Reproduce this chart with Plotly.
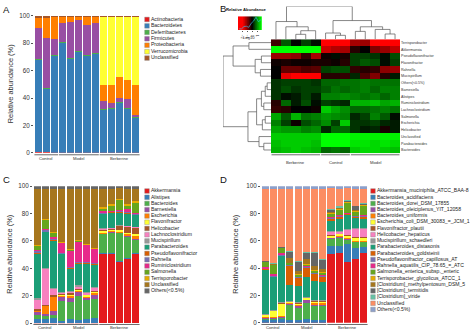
import numpy as np
import plotly.graph_objects as go

W, H = 474, 336
FONT = "Liberation Sans, Arial, sans-serif"


def fx(p):
    return p / W


def fy(p):
    return 1 - p / H


# ---------------- data ----------------
groups_bar = [("Control", 3), ("Model", 5), ("Berberine", 5)]
groups_heat = [("Berberine", 5), ("Control", 3), ("Model", 5)]

phylum_names = ["Actinobacteria", "Bacteroidetes", "Deferribacteres", "Firmicutes",
                "Proteobacteria", "Verrucomicrobia", "Unclassified"]
phylum_colors = ["#E41A1C", "#377EB8", "#4DAF4A", "#984EA3", "#FF7F00", "#FFFF33", "#A65628"]
# one row per sample (Control x3, Model x5, Berberine x5)
phylum_by_sample = [
    [0.3, 68.0, 0.2, 22.7, 7.8, 0.0, 1.0],
    [0.3, 46.7, 0.2, 36.3, 15.5, 0.0, 1.0],
    [0.2, 71.0, 0.1, 11.9, 16.3, 0.0, 0.5],
    [0.1, 80.5, 0.1, 13.7, 5.4, 0.0, 0.2],
    [0.1, 68.8, 0.1, 26.6, 4.2, 0.0, 0.2],
    [0.1, 74.0, 0.1, 22.9, 2.7, 0.0, 0.2],
    [0.1, 71.2, 0.1, 21.7, 6.7, 0.0, 0.2],
    [0.1, 72.4, 0.1, 22.3, 4.9, 0.0, 0.2],
    [0.1, 32.0, 0.1, 5.3, 12.1, 50.2, 0.2],
    [0.1, 32.4, 0.1, 3.5, 13.4, 50.3, 0.2],
    [0.1, 37.0, 0.1, 3.1, 15.0, 44.5, 0.2],
    [0.1, 32.4, 0.1, 6.5, 14.0, 46.7, 0.2],
    [0.1, 25.7, 0.1, 1.8, 21.9, 50.2, 0.2],
]

genus_names = ["Akkermansia", "Alistipes", "Bacteroides", "Barnesiella", "Escherichia",
               "Flavonifractor", "Helicobacter", "Lachnoclostridium", "Mucispirillum",
               "Parabacteroides", "Pseudoflavonifractor", "Rahnella", "Ruminiclostridium",
               "Salmonella", "Terrisporobacter", "Unclassified", "Others(<0.5%)"]
genus_colors = ["#E41A1C", "#377EB8", "#4DAF4A", "#984EA3", "#FF7F00", "#FFFF33", "#A65628",
                "#F781BF", "#999999", "#1B9E77", "#D95F02", "#7570B3", "#E7298A", "#66A61E",
                "#E6AB02", "#A6761D", "#666666"]
genus_by_sample = [
    [0.2, 3.0, 2.5, 2.5, 1.0, 0.3, 0.7, 7.0, 1.5, 32.0, 0.5, 1.5, 0.7, 3.3, 0.2, 41.0, 2.0],
    [0.2, 3.0, 2.0, 1.5, 6.0, 0.3, 0.5, 26.5, 0.5, 26.0, 0.5, 1.0, 1.0, 6.5, 0.2, 22.3, 2.0],
    [0.2, 3.5, 2.5, 3.0, 10.0, 0.5, 0.8, 4.5, 0.5, 35.0, 0.5, 1.0, 1.0, 3.0, 0.2, 31.8, 2.0],
    [0.2, 1.5, 14.5, 3.0, 1.0, 1.0, 0.5, 0.8, 0.5, 27.5, 0.5, 0.5, 7.0, 0.5, 0.3, 38.7, 2.0],
    [0.2, 3.0, 12.0, 3.5, 1.5, 1.0, 0.5, 1.5, 0.5, 16.0, 0.5, 0.5, 12.5, 0.5, 0.3, 44.0, 2.0],
    [0.2, 2.0, 17.5, 3.5, 0.5, 1.0, 0.5, 1.5, 1.0, 16.0, 0.5, 0.5, 15.0, 0.5, 0.3, 37.5, 2.0],
    [0.2, 3.0, 13.5, 2.0, 1.0, 1.0, 0.5, 0.8, 0.5, 21.0, 0.5, 0.5, 12.5, 0.5, 0.3, 40.2, 2.0],
    [0.2, 3.5, 14.0, 3.0, 1.0, 1.5, 0.5, 2.5, 0.5, 16.0, 0.5, 0.5, 10.5, 0.5, 0.3, 43.0, 2.0],
    [50.7, 0.3, 14.0, 0.3, 1.0, 0.8, 1.5, 0.3, 0.3, 10.5, 0.5, 0.3, 1.0, 2.0, 1.0, 13.5, 2.0],
    [51.0, 0.3, 15.0, 0.3, 1.0, 0.8, 0.8, 0.3, 0.3, 11.0, 0.5, 0.3, 0.5, 4.0, 0.5, 11.4, 2.0],
    [45.0, 0.3, 20.5, 0.3, 1.0, 0.8, 3.0, 0.3, 0.3, 9.5, 0.5, 0.3, 0.5, 8.0, 0.5, 7.7, 1.5],
    [47.0, 0.3, 16.0, 0.3, 1.5, 1.0, 4.5, 0.3, 0.3, 9.0, 0.5, 0.3, 2.5, 2.0, 1.5, 11.0, 2.0],
    [51.0, 0.3, 10.0, 0.3, 2.5, 0.8, 5.0, 0.3, 0.3, 8.5, 0.5, 0.3, 0.5, 8.0, 0.5, 9.2, 2.0],
]

species_names = ["Akkermansia_muciniphila_ATCC_BAA-835", "Bacteroides_acidifaciens",
                 "Bacteroides_dorei_DSM_17855", "Bacteroides_oleiciplenus_YIT_12058",
                 "Bacteroides_uniformis", "Escherichia_coli_DSM_30083_=_JCM_1649_=_ATCC_11775",
                 "Flavonifractor_plautii", "Helicobacter_hepaticus", "Mucispirillum_schaedleri",
                 "Parabacteroides_distasonis", "Parabacteroides_goldsteinii",
                 "Pseudoflavonifractor_capillosus_ATCC_29799",
                 "Rahnella_aquatilis_CIP_78.65_=_ATCC_33071",
                 "Salmonella_enterica_subsp._enterica_serovar_Typhimurium",
                 "Terrisporobacter_glycolicus_ATCC_14880", "[Clostridium]_methylpentosum_DSM_5476",
                 "[Clostridium]_termitidis", "[Clostridium]_viride", "Unclassified", "Others(<0.5%)"]
species_colors = ["#E41A1C", "#377EB8", "#4DAF4A", "#984EA3", "#FF7F00", "#FFFF33", "#A65628",
                  "#F781BF", "#999999", "#1B9E77", "#D95F02", "#7570B3", "#E7298A", "#66A61E",
                  "#E6AB02", "#A6761D", "#666666", "#66C2A5", "#FC8D62", "#8DA0CB"]
species_by_sample = [
    [0.1, 2.0, 1.0, 0.5, 0.5, 1.5, 0.3, 0.2, 0.5, 32.5, 0.5, 0.3, 1.0, 3.5, 0.2, 0.2, 0.3, 0.2, 52.7, 2.0],
    [0.1, 2.0, 1.0, 0.5, 0.5, 4.5, 0.3, 0.2, 0.3, 24.0, 0.5, 0.5, 1.5, 6.5, 0.2, 0.5, 0.3, 0.2, 54.4, 2.0],
    [0.1, 3.0, 0.5, 0.5, 0.5, 9.5, 0.3, 0.2, 0.3, 34.0, 0.5, 0.3, 1.5, 3.5, 0.2, 0.2, 0.3, 0.2, 42.4, 2.0],
    [0.1, 2.0, 11.0, 1.0, 0.5, 0.5, 0.3, 0.2, 0.3, 11.5, 14.5, 0.5, 0.3, 1.0, 0.3, 3.5, 4.5, 0.5, 45.2, 2.3],
    [0.1, 2.0, 9.0, 1.5, 0.5, 1.0, 0.3, 0.2, 0.3, 12.0, 6.0, 0.5, 0.3, 1.5, 0.3, 2.5, 6.5, 0.5, 53.0, 2.0],
    [0.1, 2.5, 12.0, 2.0, 0.5, 1.0, 0.3, 0.2, 0.3, 14.5, 7.0, 0.5, 0.3, 1.5, 0.3, 3.5, 4.5, 0.5, 46.5, 2.0],
    [0.1, 2.0, 10.0, 1.5, 0.5, 1.5, 0.3, 0.2, 0.3, 14.0, 5.5, 0.5, 0.3, 1.5, 0.5, 3.0, 9.5, 0.5, 46.3, 2.0],
    [0.1, 2.0, 10.0, 1.5, 0.5, 1.5, 0.3, 0.2, 0.3, 13.5, 4.0, 0.5, 0.3, 2.0, 0.3, 2.5, 6.5, 0.5, 51.5, 2.0],
    [50.5, 6.0, 5.0, 0.5, 0.5, 1.0, 0.5, 2.5, 0.3, 7.5, 2.0, 0.5, 0.3, 3.0, 0.5, 0.5, 1.5, 0.5, 15.4, 1.5],
    [51.0, 5.5, 6.0, 0.5, 0.5, 1.5, 0.5, 1.0, 0.3, 9.0, 2.0, 0.5, 0.3, 4.5, 0.5, 0.5, 0.5, 0.5, 12.9, 2.0],
    [44.5, 13.0, 3.5, 0.5, 0.5, 1.5, 0.5, 4.5, 0.3, 10.0, 1.0, 0.3, 0.3, 7.5, 0.5, 0.5, 0.5, 0.3, 8.8, 1.5],
    [47.0, 8.0, 4.0, 0.5, 0.5, 2.5, 0.5, 6.0, 0.3, 7.0, 1.5, 0.3, 0.3, 3.0, 0.5, 0.5, 3.0, 0.3, 12.3, 2.0],
    [51.0, 4.5, 3.5, 0.5, 0.5, 2.0, 0.5, 6.5, 0.3, 6.5, 2.0, 0.5, 0.3, 7.0, 0.5, 0.5, 0.5, 0.5, 10.4, 2.0],
]
# species legend entries run past the right border, so only the leading part is printed
species_label_chars = 34

# heatmap (log10 relative abundance, centred); columns: Berberine x5, Control x3, Model x5
heat_rows = ["Terrisporobacter", "Akkermansia", "Pseudoflavonifractor", "Flavonifractor",
             "Rahnella", "Mucispirillum", "Others(<0.5%)", "Barnesiella", "Alistipes",
             "Ruminiclostridium", "Lachnoclostridium", "Salmonella", "Escherichia",
             "Helicobacter", "Unclassified", "Parabacteroides", "Bacteroides"]
heat_values = [
    [-0.5, 0.7, 0.0, 0.5, 0.1, -2.0, -2.0, -2.0, -1.3, -1.2, -2.0, -2.0, -2.0],
    [2.0, 2.0, 2.0, 2.0, 2.0, -1.6, -1.4, -1.3, -0.3, 0.0, -1.0, -1.2, -1.5],
    [-1.2, -1.2, -1.1, -0.4, -1.3, -0.1, 0.1, -0.2, 0.5, 0.5, 0.4, 0.1, 0.6],
    [-0.1, -0.2, -0.1, -0.1, -0.2, -0.2, -0.1, -0.3, 0.5, 0.7, 0.6, 0.1, 0.5],
    [0.0, -0.8, -0.8, -0.6, -0.7, 0.5, 0.6, 0.6, -0.4, -0.3, -0.4, -1.1, -1.2],
    [0.0, -1.8, -2.0, -2.0, -2.0, -0.3, -0.3, -0.4, 0.3, -0.6, -1.0, -0.3, 0.2],
    [0.4, 0.5, 0.5, 0.5, 0.4, 0.8, 0.8, 0.9, 0.9, 1.0, 0.9, 0.9, 0.9],
    [0.4, 0.6, 0.4, 0.5, 0.5, 0.7, 0.9, 0.8, 0.9, 1.0, 0.8, 1.0, 1.0],
    [0.4, 0.1, 0.2, 0.5, 0.2, 1.0, 1.0, 1.1, 1.0, 0.9, 1.0, 0.8, 1.0],
    [-0.3, 0.8, 0.2, 0.6, 0.1, 0.5, 0.4, 0.3, 1.4, 1.4, 1.5, 1.3, 1.4],
    [-0.4, -0.3, 0.0, 0.0, -0.1, 1.6, 1.3, 1.1, 0.8, 0.8, 0.9, 1.0, 0.9],
    [1.3, 0.7, 1.4, 0.9, 1.0, 1.2, 1.1, 1.0, 0.3, 0.5, 1.0, 0.7, 0.1],
    [1.0, 0.5, -0.1, 0.6, 0.8, 1.1, 0.5, 1.6, 0.4, 0.4, 0.5, 0.3, 0.2],
    [1.3, 1.2, 1.2, 1.0, 1.1, 0.3, 0.8, 0.8, 0.4, 0.2, 0.3, -0.2, 0.2],
    [1.6, 1.6, 1.6, 1.6, 1.6, 2.0, 2.0, 2.0, 1.9, 1.9, 1.9, 1.9, 1.9],
    [1.5, 1.6, 1.6, 1.6, 1.5, 2.0, 2.0, 2.0, 1.8, 1.8, 1.7, 1.8, 1.7],
    [1.4, 1.5, 1.6, 1.5, 1.4, 0.8, 0.9, 0.8, 1.6, 1.7, 1.7, 1.6, 1.5],
]

# hierarchical clustering merges: (child_a, child_b, height); new node ids follow the leaves
col_merges = [(2, 3, 0.15), (13, 4, 0.26), (1, 14, 0.38), (0, 15, 0.54),
              (6, 7, 0.12), (5, 17, 0.19), (8, 9, 0.24), (11, 12, 0.16),
              (10, 20, 0.30), (19, 21, 0.38), (18, 22, 0.57), (16, 23, 1.0)]
row_merges = [(0, 1, 0.46), (2, 3, 0.20), (4, 5, 0.22), (18, 19, 0.33), (17, 20, 0.79),
              (6, 7, 0.08), (22, 8, 0.12), (9, 10, 0.15), (23, 24, 0.20), (11, 12, 0.12),
              (26, 13, 0.18), (25, 27, 0.30), (15, 16, 0.15), (14, 29, 0.25),
              (28, 30, 0.48), (21, 31, 1.0)]

colorkey_ticks = [-2, -1, 0, 1]

# ---------------- helpers ----------------
fig = go.Figure()
TXT = "#333333"


def hidden(domain, rng, **kw):
    d = dict(domain=domain, range=rng, visible=False, fixedrange=True)
    d.update(kw)
    return d


def add_stack(names, colors, by_sample, xa, ya):
    vals = np.array(by_sample).T
    xs = list(range(vals.shape[1]))
    for name, col, row in zip(names, colors, vals):
        fig.add_trace(go.Bar(x=xs, y=row, name=name, marker=dict(color=col, line=dict(width=0)),
                             xaxis=xa, yaxis=ya, showlegend=False, hoverinfo="skip"))


def add_key(names, colors, xa, ya):
    n = len(names)
    fig.add_trace(go.Scatter(x=[0] * n, y=list(range(n)), mode="markers+text",
                             marker=dict(symbol="square", size=4.6, color=colors,
                                         line=dict(width=0.4, color="#888888")),
                             text=names, textposition="middle right",
                             textfont=dict(size=5.1, color="#222222", family=FONT),
                             xaxis=xa, yaxis=ya, showlegend=False, hoverinfo="skip",
                             cliponaxis=False))


def dendro_lines(merges, n_leaves):
    pos = {i: float(i) for i in range(n_leaves)}
    hgt = {i: 0.0 for i in range(n_leaves)}
    p_list, h_list = [], []
    for k, (a, b, h) in enumerate(merges):
        node = n_leaves + k
        p_list += [pos[a], pos[a], pos[b], pos[b], None]
        h_list += [hgt[a], h, h, hgt[b], None]
        pos[node] = (pos[a] + pos[b]) / 2
        hgt[node] = h
    return p_list, h_list


def group_marks(groups, xref, y_line, y_text):
    start = 0
    for label, n in groups:
        fig.add_shape(type="line", xref=xref, yref="paper", x0=start - 0.45,
                      x1=start + n - 1 + 0.45, y0=fy(y_line), y1=fy(y_line),
                      line=dict(color="#444444", width=0.8))
        fig.add_annotation(x=start + (n - 1) / 2, y=fy(y_text), xref=xref, yref="paper",
                           text=label, showarrow=False, font=dict(size=4.2, color=TXT),
                           xanchor="center", yanchor="middle")
        start += n


def yaxis_bars(domain, anchor):
    return dict(domain=domain, range=[0, 100], tickvals=[0, 20, 40, 60, 80, 100],
                ticks="outside", ticklen=2, tickwidth=0.6, tickcolor="#555555",
                tickfont=dict(size=6.3, color=TXT), showgrid=False, zeroline=False,
                showline=False, anchor=anchor, fixedrange=True)


# ---------------- panel A ----------------
add_stack(phylum_names, phylum_colors, phylum_by_sample, "x", "y")
add_key(phylum_names, phylum_colors, "x2", "y2")
group_marks(groups_bar, "x", 154, 157.8)

# ---------------- panel B ----------------
hz = np.array(heat_values)
cscale = [[0.0, "#FF0000"], [0.2, "#FF0000"], [0.6, "#000000"], [1.0, "#00FF00"]]
fig.add_trace(go.Heatmap(z=hz, x=list(range(hz.shape[1])), y=list(range(hz.shape[0])),
                         colorscale=cscale, zmin=-3, zmax=2, showscale=False,
                         xaxis="x3", yaxis="y3", hoverinfo="skip"))
cp, ch = dendro_lines(col_merges, hz.shape[1])
fig.add_trace(go.Scatter(x=cp, y=ch, mode="lines", line=dict(color="#555555", width=0.7),
                         xaxis="x4", yaxis="y4", showlegend=False, hoverinfo="skip",
                         cliponaxis=False))
rp, rh = dendro_lines(row_merges, hz.shape[0])
fig.add_trace(go.Scatter(x=rh, y=rp, mode="lines", line=dict(color="#555555", width=0.7),
                         xaxis="x5", yaxis="y5", showlegend=False, hoverinfo="skip",
                         cliponaxis=False))
# colour key with value histogram
key_vals = np.linspace(-3, 2, 60)
fig.add_trace(go.Heatmap(z=[key_vals, key_vals], x=key_vals, y=[0.25, 0.75],
                         colorscale=cscale, zmin=-3, zmax=2, showscale=False,
                         xaxis="x6", yaxis="y6", hoverinfo="skip"))
counts, edges = np.histogram(hz.ravel(), bins=10, range=(-3, 2))
fig.add_trace(go.Scatter(x=(edges[:-1] + edges[1:]) / 2, y=0.08 + 0.85 * counts / counts.max(),
                         mode="lines", line=dict(color="#33CCFF", width=0.6),
                         xaxis="x6", yaxis="y6", showlegend=False, hoverinfo="skip"))
group_marks(groups_heat, "x3", 154, 161.5)

# ---------------- panel C ----------------
add_stack(genus_names, genus_colors, genus_by_sample, "x7", "y7")
add_key(genus_names, genus_colors, "x8", "y8")
group_marks(groups_bar, "x7", 327.3, 330.8)

# ---------------- panel D ----------------
add_stack(species_names, species_colors, species_by_sample, "x9", "y9")
add_key([s[:species_label_chars] for s in species_names], species_colors, "x10", "y10")
group_marks(groups_bar, "x9", 327.3, 330.8)

# ---------------- layout ----------------
bar_rng = [-0.5, 12.5]
layout = dict(
    width=W, height=H, margin=dict(l=0, r=0, t=0, b=0),
    paper_bgcolor="white", plot_bgcolor="white", barmode="stack", bargap=0.14,
    font=dict(family=FONT, color=TXT), showlegend=False,
    xaxis=hidden([fx(34), fx(140)], bar_rng, anchor="y"),
    yaxis=yaxis_bars([fy(152), fy(12)], "x"),
    xaxis2=hidden([fx(147), fx(157)], [0, 1], anchor="y2"),
    yaxis2=hidden([fy(58.5), fy(12.5)], [6.5, -0.5], anchor="x2"),
    xaxis3=hidden([fx(271), fx(400)], bar_rng, anchor="y3"),
    yaxis3=dict(domain=[fy(152.5), fy(36)], range=[16.5, -0.5], side="right",
                tickvals=list(range(len(heat_rows))), ticktext=heat_rows, ticks="",
                tickfont=dict(size=3.6, color=TXT), showgrid=False, zeroline=False,
                showline=False, anchor="x3", fixedrange=True),
    xaxis4=hidden([fx(271), fx(400)], bar_rng, anchor="y4"),
    yaxis4=hidden([fy(36), fy(2.5)], [0, 1], anchor="x4"),
    xaxis5=hidden([fx(223), fx(271)], [1, 0], anchor="y5"),
    yaxis5=hidden([fy(152.5), fy(36)], [16.5, -0.5], anchor="x5"),
    xaxis6=dict(domain=[fx(238), fx(262)], range=[-3, 2], tickvals=colorkey_ticks,
                ticks="outside", ticklen=1.5, tickwidth=0.5, tickcolor="#555555",
                tickfont=dict(size=3.4, color=TXT), showgrid=False, zeroline=False,
                showline=False, anchor="y6", fixedrange=True),
    yaxis6=hidden([fy(26.5), fy(12.5)], [0, 1], anchor="x6"),
    xaxis7=hidden([fx(33), fx(140)], bar_rng, anchor="y7"),
    yaxis7=yaxis_bars([fy(326), fy(186)], "x7"),
    xaxis8=hidden([fx(147), fx(157)], [0, 1], anchor="y8"),
    yaxis8=hidden([fy(296.2), fy(187.8)], [16.5, -0.5], anchor="x8"),
    xaxis9=hidden([fx(261), fx(368)], bar_rng, anchor="y9"),
    yaxis9=yaxis_bars([fy(325.5), fy(186)], "x9"),
    xaxis10=hidden([fx(373), fx(383)], [0, 1], anchor="y10"),
    yaxis10=hidden([fy(315.2), fy(187.8)], [19.5, -0.5], anchor="x10"),
)
fig.update_layout(**layout)

# panel letters, axis titles and colour-key captions
for txt, x, y in [("A", 1, 6), ("B", 218, 5), ("C", 1, 179), ("D", 218, 179)]:
    fig.add_annotation(x=fx(x), y=fy(y), xref="paper", yref="paper", text=txt, showarrow=False,
                       font=dict(size=9.5, color="#111111"), xanchor="left", yanchor="middle")
for xc, yc in [(10, 82), (10, 256), (236, 256)]:
    fig.add_annotation(x=fx(xc), y=fy(yc), xref="paper", yref="paper",
                       text="Relative abundance (%)", textangle=-90, showarrow=False,
                       font=dict(size=7.4, color=TXT), xanchor="center", yanchor="middle")
fig.add_annotation(x=fx(246), y=fy(6), xref="paper", yref="paper",
                   text="<b>Relative Abundance</b>", showarrow=False,
                   font=dict(size=4.2, color="#111111"), xanchor="center", yanchor="middle")
fig.add_annotation(x=fx(249), y=fy(34), xref="paper", yref="paper", text="Log10",
                   showarrow=False, font=dict(size=4.2, color=TXT),
                   xanchor="center", yanchor="middle")

fig.write_html("out.html")
